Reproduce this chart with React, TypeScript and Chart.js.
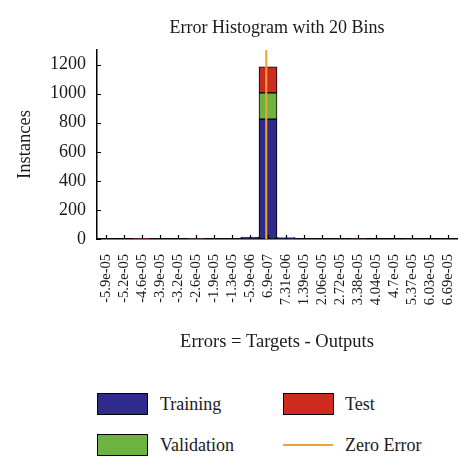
import { useEffect, useRef } from 'react'
import { Chart, ChartConfiguration, Plugin } from 'chart.js/auto'

// bin centres, as printed under the x axis
const binLabels = [
  '-5.9e-05', '-5.2e-05', '-4.6e-05', '-3.9e-05', '-3.2e-05', '-2.6e-05', '-1.9e-05',
  '-1.3e-05', '-5.9e-06', '6.9e-07', '7.31e-06', '1.39e-05', '2.06e-05', '2.72e-05',
  '3.38e-05', '4.04e-05', '4.7e-05', '5.37e-05', '6.03e-05', '6.69e-05',
]
const binCenters = [
  -5.9e-5, -5.2e-5, -4.6e-5, -3.9e-5, -3.2e-5, -2.6e-5, -1.9e-5,
  -1.3e-5, -5.9e-6, 6.9e-7, 7.31e-6, 1.39e-5, 2.06e-5, 2.72e-5,
  3.38e-5, 4.04e-5, 4.7e-5, 5.37e-5, 6.03e-5, 6.69e-5,
]
const training = [1, 0, 2, 1, 1, 3, 1, 2, 10, 825, 7, 2, 1, 2, 1, 0, 0, 1, 0, 1]
const validation = [0, 0, 0, 0, 0, 0, 0, 0, 2, 180, 1, 0, 0, 0, 0, 0, 0, 0, 0, 0]
const test = [0, 0, 1, 0, 0, 1, 0, 0, 2, 180, 2, 0, 0, 0, 1, 0, 0, 0, 0, 0]
const zeroError = [
  { x: 0, y: 0 },
  { x: 0, y: 1300 },
]
const yTicks = [0, 200, 400, 600, 800, 1000, 1200]

const COLORS = {
  training: '#2e2b8b',
  validation: '#6cb33f',
  test: '#cf2a1f',
  zero: '#f0a23a',
}
const FONT = '"Liberation Serif", "DejaVu Serif", serif'

// MATLAB style: short tick marks pointing into the plot
const innerTicks: Plugin = {
  id: 'innerTicks',
  afterDraw(chart) {
    const { ctx, chartArea } = chart
    const x = chart.scales.x
    const y = chart.scales.y
    ctx.save()
    ctx.strokeStyle = '#000'
    ctx.lineWidth = 1.2
    ctx.beginPath()
    x.ticks.forEach((_, i) => {
      const px = Math.round(x.getPixelForTick(i)) + 0.5
      ctx.moveTo(px, chartArea.bottom)
      ctx.lineTo(px, chartArea.bottom - 4)
    })
    y.ticks.forEach((_, i) => {
      const py = Math.round(y.getPixelForTick(i)) + 0.5
      ctx.moveTo(chartArea.left, py)
      ctx.lineTo(chartArea.left + 4, py)
    })
    ctx.stroke()
    ctx.restore()
  },
}

function ErrorHistogram() {
  const canvasRef = useRef<HTMLCanvasElement>(null)
  const chartRef = useRef<Chart | null>(null)

  useEffect(() => {
    if (!canvasRef.current) return
    if (chartRef.current) chartRef.current.destroy()

    const half = (binCenters[binCenters.length - 1] - binCenters[0]) / (binCenters.length - 1) / 2

    const bar = (label: string, data: number[], color: string) => ({
      type: 'bar' as const,
      label,
      data,
      backgroundColor: color,
      borderColor: '#000',
      borderWidth: 1,
      borderSkipped: false as const,
      barPercentage: 1,
      categoryPercentage: 1,
      grouped: false,
      xAxisID: 'x',
      order: 1,
    })

    const config: ChartConfiguration = {
      type: 'bar',
      data: {
        labels: binLabels,
        datasets: [
          bar('Training', training, COLORS.training),
          bar('Validation', validation, COLORS.validation),
          bar('Test', test, COLORS.test),
          {
            type: 'line',
            label: 'Zero Error',
            data: zeroError,
            xAxisID: 'x2',
            borderColor: COLORS.zero,
            borderWidth: 2,
            pointRadius: 0,
            order: 0,
          } as any,
        ],
      },
      options: {
        animation: false,
        responsive: true,
        maintainAspectRatio: false,
        layout: { padding: { left: 0, right: 9, top: 0, bottom: 11 } },
        plugins: {
          legend: { display: false },
          tooltip: { enabled: false },
          title: {
            display: true,
            fullSize: false,
            text: 'Error Histogram with 20 Bins',
            color: '#1a1a1a',
            font: { family: FONT, size: 18, weight: 'normal' },
            padding: { top: 9, bottom: 11.4 },
          },
        },
        scales: {
          x: {
            type: 'category',
            stacked: true,
            offset: true,
            grid: { display: false, drawTicks: false },
            border: { display: true, color: '#000', width: 1.5 },
            ticks: {
              autoSkip: false,
              minRotation: 90,
              maxRotation: 90,
              padding: 15,
              color: '#1a1a1a',
              font: { family: FONT, size: 14.5 },
            },
            title: {
              display: true,
              text: 'Errors = Targets - Outputs',
              color: '#1a1a1a',
              font: { family: FONT, size: 18.5 },
              padding: { top: 4, bottom: 4 },
            },
            afterFit: (scale) => {
              scale.height = 118
              scale.paddingLeft = 0
              scale.paddingRight = 0
            },
          },
          x2: {
            type: 'linear',
            display: false,
            offset: false,
            min: binCenters[0] - half,
            max: binCenters[binCenters.length - 1] + half,
          },
          y: {
            stacked: true,
            min: 0,
            max: 1300,
            grid: { display: false, drawTicks: false },
            border: { display: true, color: '#000', width: 1.5 },
            afterBuildTicks: (scale) => {
              scale.ticks = yTicks.map((value) => ({ value }))
            },
            ticks: {
              padding: 11,
              color: '#1a1a1a',
              font: { family: FONT, size: 18 },
              callback: (value) => String(value),
            },
            title: {
              display: true,
              text: 'Instances',
              color: '#1a1a1a',
              font: { family: FONT, size: 18.5 },
              padding: { top: 6, bottom: 4 },
            },
            afterFit: (scale) => {
              scale.width = 89
              scale.paddingTop = 0
              scale.paddingBottom = 0
            },
          },
        },
      },
      plugins: [innerTicks],
    }

    chartRef.current = new Chart(canvasRef.current, config)

    return () => {
      if (chartRef.current) {
        chartRef.current.destroy()
        chartRef.current = null
      }
    }
  }, [])

  return <canvas ref={canvasRef} />
}

const swatch = (left: number, top: number, color: string) => (
  <div
    style={{
      position: 'absolute',
      left,
      top,
      width: 49,
      height: 20,
      background: color,
      border: '1px solid #000',
    }}
  />
)

const legendText = (left: number, top: number, text: string) => (
  <div
    style={{
      position: 'absolute',
      left,
      top,
      height: 22,
      lineHeight: '22px',
      fontFamily: FONT,
      fontSize: 18,
      color: '#1a1a1a',
      whiteSpace: 'nowrap',
    }}
  >
    {text}
  </div>
)

export default function App() {
  return (
    <div style={{ position: 'relative', width: 458, height: 458, overflow: 'hidden', background: '#fff' }}>
      <div style={{ position: 'absolute', left: 0, top: 0, width: 458, height: 360 }}>
        <ErrorHistogram />
      </div>
      {swatch(89, 385, COLORS.training)}
      {legendText(152, 385, 'Training')}
      {swatch(275, 385, COLORS.test)}
      {legendText(337, 385, 'Test')}
      {swatch(89, 426, COLORS.validation)}
      {legendText(152, 426, 'Validation')}
      <div style={{ position: 'absolute', left: 275, top: 436, width: 50, height: 2, background: COLORS.zero }} />
      {legendText(337, 426, 'Zero Error')}
    </div>
  )
}
